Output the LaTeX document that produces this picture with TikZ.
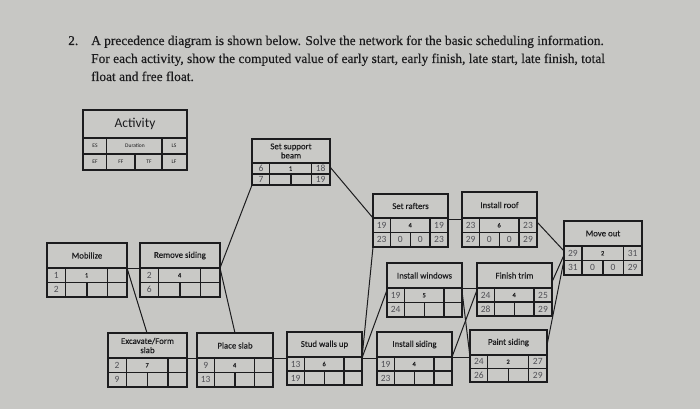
\documentclass[tikz,border=0pt]{standalone}
\usepackage{fontspec}
\setmainfont{Liberation Serif}
\newfontfamily\hdrfont[FakeBold=0.35]{Liberation Serif}
\newfontfamily\carl{Carlito}
\newfontfamily\carlb[FakeBold=0.25]{Carlito}
\usetikzlibrary{calc}
\definecolor{paper}{RGB}{199,199,196}
\definecolor{ink}{RGB}{28,28,30}
\definecolor{pen}{RGB}{80,80,86}
\tikzset{
 actb/.style={draw=ink, line width=1.4pt, inner sep=0pt, outer sep=0pt, rectangle, fill=paper!96!white},
 cellline/.style={draw=ink, line width=1.1pt},
 conn/.style={draw=ink, line width=1pt},
 acttitle/.style={font=\carlb\fontsize{8.8}{9.2}\selectfont, text=ink, align=center, inner sep=0pt},
 hand/.style={font=\carl\fontsize{9.5}{9.5}\selectfont, text=pen, inner sep=0pt},
 prt/.style={font=\carlb\fontsize{6.5}{6.5}\selectfont, text=ink, inner sep=0pt},
 leg/.style={font=\carl\fontsize{5.5}{5.5}\selectfont, text=ink, inner sep=0pt},
 hdr/.style={font=\hdrfont\fontsize{13.4}{15}\selectfont, text=ink, inner sep=0pt, anchor=base west}
}
% #1 name, #2 x, #3 y, #4 w, #5 h, #6 title height, #7 title
\newcommand\actbox[7]{%
 \gdef\curw{#4}\gdef\curh{#5}\gdef\curt{#6}%
 \node[actb, minimum width=#4pt, minimum height=#5pt, anchor=north west] (#1) at (#2,#3) {};
 \node[acttitle] (#1-title) at ([yshift={-#6*0.5pt}]#1.north) {#7};
 \pgfmathsetmacro\mya{#6}%
 \pgfmathsetmacro\myb{#6+(#5-#6)/2}%
 \pgfmathsetmacro\xa{0.23*#4}%
 \pgfmathsetmacro\xb{0.5*#4}%
 \pgfmathsetmacro\xc{0.76*#4}%
 \draw[cellline] ([yshift=-\mya pt]#1.north west) -- ([yshift=-\mya pt]#1.north east);
 \draw[cellline] ([yshift=-\myb pt]#1.north west) -- ([yshift=-\myb pt]#1.north east);
 \draw[cellline] ([xshift=\xa pt,yshift=-\mya pt]#1.north west) -- ([xshift=\xa pt]#1.south west);
 \draw[cellline] ([xshift=\xc pt,yshift=-\mya pt]#1.north west) -- ([xshift=\xc pt]#1.south west);
 \draw[cellline] ([xshift=\xb pt,yshift=-\myb pt]#1.north west) -- ([xshift=\xb pt]#1.south west);
}
% #1 name, #2 ES, #3 dur, #4 LS, #5 EF, #6 FF, #7 TF, #8 LF
\newcommand\actnums[8]{%
 \pgfmathsetmacro\ra{\curt+(\curh-\curt)/4}%
 \pgfmathsetmacro\rb{\curt+3*(\curh-\curt)/4}%
 \pgfmathsetmacro\ca{0.115*\curw}%
 \pgfmathsetmacro\cb{0.495*\curw}%
 \pgfmathsetmacro\cc{0.365*\curw}%
 \pgfmathsetmacro\cd{0.63*\curw}%
 \pgfmathsetmacro\ce{0.88*\curw}%
 \node[hand] (#1-es) at ([xshift=\ca pt,yshift=-\ra pt]#1.north west) {#2};
 \node[prt]  (#1-du) at ([xshift=\cb pt,yshift=-\ra pt]#1.north west) {#3};
 \node[hand] (#1-ls) at ([xshift=\ce pt,yshift=-\ra pt]#1.north west) {#4};
 \node[hand] (#1-ef) at ([xshift=\ca pt,yshift=-\rb pt]#1.north west) {#5};
 \node[hand] (#1-ff) at ([xshift=\cc pt,yshift=-\rb pt]#1.north west) {#6};
 \node[hand] (#1-tf) at ([xshift=\cd pt,yshift=-\rb pt]#1.north west) {#7};
 \node[hand] (#1-lf) at ([xshift=\ce pt,yshift=-\rb pt]#1.north west) {#8};
}
\begin{document}
\begin{tikzpicture}[x=1pt,y=-1pt]
\useasboundingbox (0,0) rectangle (700,409);
\fill[paper] (0,0) rectangle (700,409);

% header
\node[hdr] (qnum) at (68,45) {2.};
\node[hdr] (line1) at (91,45) {A precedence diagram is shown below. Solve the network for the basic scheduling information.};
\node[hdr] (line2) at (91,63) {For each activity, show the computed value of early start, early finish, late start, late finish, total};
\node[hdr] (line3) at (91,81) {float and free float.};

% legend
\actbox{lgd}{83}{110}{104}{60}{28}{}
\node[font=\carl\fontsize{13.5}{13.5}\selectfont, text=ink, inner sep=0pt] (lgd-name) at ([yshift=-14pt]lgd.north) {Activity};
\node[leg] (lgd-es) at ([xshift=12pt,yshift=-36pt]lgd.north west) {ES};
\node[leg] (lgd-du) at ([xshift=52pt,yshift=-36pt]lgd.north west) {Duration};
\node[leg] (lgd-ls) at ([xshift=91pt,yshift=-36pt]lgd.north west) {LS};
\node[leg] (lgd-ef) at ([xshift=12pt,yshift=-52pt]lgd.north west) {EF};
\node[leg] (lgd-ff) at ([xshift=38pt,yshift=-52pt]lgd.north west) {FF};
\node[leg] (lgd-tf) at ([xshift=66pt,yshift=-52pt]lgd.north west) {TF};
\node[leg] (lgd-lf) at ([xshift=91pt,yshift=-52pt]lgd.north west) {LF};

% activities
\actbox{ssb}{252}{139}{78}{46}{24}{Set support\\beam}
\actnums{ssb}{6}{1}{18}{7}{}{}{19}
\actbox{raf}{373}{194}{75}{53}{24}{Set rafters}
\actnums{raf}{19}{4}{19}{23}{0}{0}{23}
\actbox{roof}{462}{192}{75}{55}{26}{Install roof}
\actnums{roof}{23}{6}{23}{29}{0}{0}{29}
\actbox{mov}{564}{221}{78}{54}{25}{Move out}
\actnums{mov}{29}{2}{31}{31}{0}{0}{29}
\actbox{mob}{47}{243}{80}{54}{25}{Mobilize}
\actnums{mob}{1}{1}{}{2}{}{}{}
\actbox{rem}{140}{243}{80}{54}{25}{Remove siding}
\actnums{rem}{2}{4}{}{6}{}{}{}
\actbox{win}{387}{263}{75}{54}{25}{Install windows}
\actnums{win}{19}{5}{}{24}{}{}{}
\actbox{ftr}{477}{263}{75}{53}{25}{Finish trim}
\actnums{ftr}{24}{4}{25}{28}{}{}{29}
\actbox{exc}{108}{333}{79}{54}{25}{Excavate/Form\\slab}
\actnums{exc}{2}{7}{}{9}{}{}{}
\actbox{plc}{197}{333}{76}{54}{25}{Place slab}
\actnums{plc}{9}{4}{}{13}{}{}{}
\actbox{std}{287}{332}{75}{53}{25}{Stud walls up}
\actnums{std}{13}{6}{}{19}{}{}{}
\actbox{ins}{377}{332}{75}{53}{25}{Install siding}
\actnums{ins}{19}{4}{}{23}{}{}{}
\actbox{pnt}{470}{330}{77}{52}{25}{Paint siding}
\actnums{pnt}{24}{2}{27}{26}{}{}{29}

% connectors
\draw[conn] ([yshift=-25pt]mob.north east) -- ([yshift=-25pt]rem.north west);
\draw[conn] ([yshift=-25pt]mob.north east) -- ([xshift=39pt]exc.north west);
\draw[conn] ([yshift=-25pt]rem.north east) -- (ssb.south west);
\draw[conn] ([yshift=-25pt]rem.north east) -- ([xshift=38pt]plc.north west);
\draw[conn] ([yshift=-28pt]ssb.north east) -- ([yshift=-24pt]raf.north west);
\draw[conn] ([yshift=-25pt]raf.north east) -- ([yshift=-27pt]roof.north west);
\draw[conn] ([yshift=-30pt]roof.north east) -- ([yshift=-30pt]mov.north west);
\draw[conn] ([yshift=-19pt]ftr.north east) -- ([yshift=-34pt]mov.north west);
\draw[conn] ([yshift=-15pt]pnt.north east) -- ([yshift=-39pt]mov.north west);
\draw[conn] ([yshift=-25pt]exc.north east) -- ([yshift=-25pt]plc.north west);
\draw[conn] ([yshift=-25pt]plc.north east) -- ([yshift=-26pt]std.north west);
\draw[conn] ([yshift=-26pt]std.north east) -- ([yshift=-26pt]ins.north west);
\draw[conn] ([yshift=-26pt]std.north east) -- (raf.south west);
\draw[conn] ([yshift=-26pt]std.north east) -- ([yshift=-27pt]win.north west);
\draw[conn] ([yshift=-25pt]ins.north east) -- ([yshift=-27pt]pnt.north west);
\draw[conn] ([yshift=-25pt]win.north east) -- ([yshift=-25pt]ftr.north west);
\draw[conn] ([yshift=-28pt]win.north east) -- ([yshift=-27pt]pnt.north west);
\draw[conn] ([yshift=-25pt]ins.north east) -- ([yshift=-27pt]ftr.north west);
\end{tikzpicture}
\end{document}
